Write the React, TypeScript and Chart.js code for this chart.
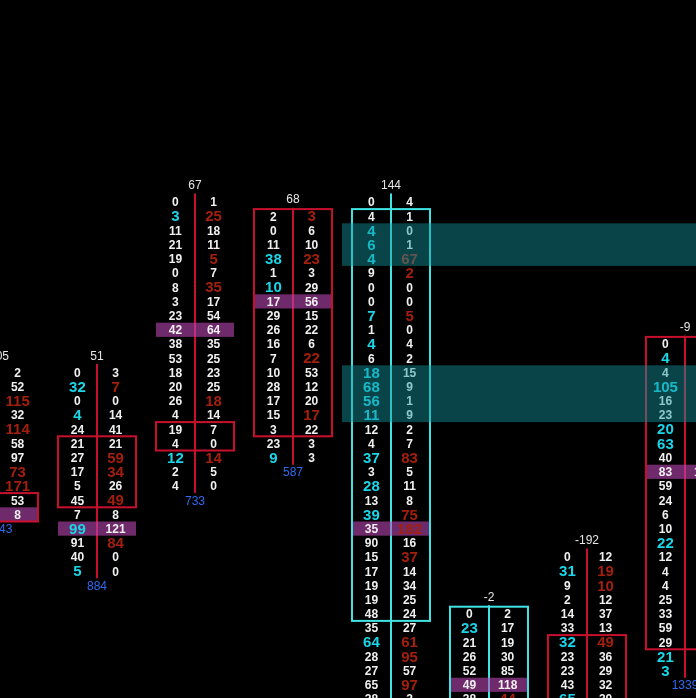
import { useEffect, useRef } from "react";
import { Chart, registerables } from "chart.js";

Chart.register(...registerables);

// ---- Column headers (bar delta) and footers (bar volume) ----
const deltaLabels = ["105", "51", "67", "68", "144", "-2", "-192", "-9"];
const volumeLabels = ["1043", "884", "733", "587", "", "", "", "1339"];
// first price level (row index, 0 = top visible level) of each bar
const firstLevel = [12, 12, 0, 1, 0, 29, 25, 10];
// point of control level per bar (null = not visible)
const pocLevel: (number | null)[] = [22, 23, 9, 7, 23, 34, null, 19];
// value-area style boxes
const boxFrom = [21, 17, 16, 1, 1, 29, 31, 10];
const boxTo = [22, 21, 17, 16, 29, 37, 37, 31];
const boxKind = ["red", "red", "red", "red", "cyan", "cyan", "red", "red"];
const lineKind = ["red", "red", "red", "red", "cyan", "cyan", "red", "red"];

// ---- bid / ask volumes per bar ----
const bid0: (number | null)[] = [null, null, null, null, null, null, null, null, null, null, null];
const ask0 = [2, 52, 115, 32, 114, 58, 97, 73, 171, 53, 8];
const bidHi0: number[] = [];
const askHi0 = [2, 4, 7, 8];

const bid1 = [0, 32, 0, 4, 24, 21, 27, 17, 5, 45, 7, 99, 91, 40, 5];
const ask1 = [3, 7, 0, 14, 41, 21, 59, 34, 26, 49, 8, 121, 84, 0, 0];
const bidHi1 = [1, 3, 11, 14];
const askHi1 = [1, 6, 7, 9, 12];

const bid2 = [0, 3, 11, 21, 19, 0, 8, 3, 23, 42, 38, 53, 18, 20, 26, 4, 19, 4, 12, 2, 4];
const ask2 = [1, 25, 18, 11, 5, 7, 35, 17, 54, 64, 35, 25, 23, 25, 18, 14, 7, 0, 14, 5, 0];
const bidHi2 = [1, 18];
const askHi2 = [1, 4, 6, 14, 18];

const bid3 = [2, 0, 11, 38, 1, 10, 17, 29, 26, 16, 7, 10, 28, 17, 15, 3, 23, 9];
const ask3 = [3, 6, 10, 23, 3, 29, 56, 15, 22, 6, 22, 53, 12, 20, 17, 22, 3, 3];
const bidHi3 = [3, 5, 17];
const askHi3 = [0, 3, 10, 14];

const bid4 = [0, 4, 4, 6, 4, 9, 0, 0, 7, 1, 4, 6, 18, 68, 56, 11, 12, 4, 37, 3, 28, 13, 39, 35, 90, 15, 17, 19, 19, 48, 35, 64, 28, 27, 65, 28];
const ask4 = [4, 1, 0, 1, 67, 2, 0, 0, 5, 0, 4, 2, 15, 9, 1, 9, 2, 7, 83, 5, 11, 8, 75, 182, 16, 37, 14, 34, 25, 24, 27, 61, 95, 57, 97, 2];
const bidHi4 = [2, 3, 4, 8, 10, 12, 13, 14, 15, 18, 20, 22, 31];
const askHi4 = [4, 5, 8, 18, 22, 23, 25, 31, 32, 34];

const bid5 = [0, 23, 21, 26, 52, 49, 38];
const ask5 = [2, 17, 19, 30, 85, 118, 44];
const bidHi5 = [1];
const askHi5 = [6];

const bid6 = [0, 31, 9, 2, 14, 33, 32, 23, 23, 43, 65];
const ask6 = [12, 19, 10, 12, 37, 13, 49, 36, 29, 32, 30];
const bidHi6 = [1, 6, 10];
const askHi6 = [1, 2, 6];

const bid7 = [0, 4, 4, 105, 16, 23, 20, 63, 40, 83, 59, 24, 6, 10, 22, 12, 4, 4, 25, 33, 59, 29, 21, 3];
const ask7: (number | null)[] = [null, null, null, null, null, null, null, null, null, 110, null, null, null, null, null, null, null, null, null, null, null, null, null, null];
const bidHi7 = [1, 3, 6, 7, 14, 22, 23];
const askHi7: number[] = [];

const bidCols = [bid0, bid1, bid2, bid3, bid4, bid5, bid6, bid7];
const askCols = [ask0, ask1, ask2, ask3, ask4, ask5, ask6, ask7];
const bidHiCols = [bidHi0, bidHi1, bidHi2, bidHi3, bidHi4, bidHi5, bidHi6, bidHi7];
const askHiCols = [askHi0, askHi1, askHi2, askHi3, askHi4, askHi5, askHi6, askHi7];

// highlighted price zones (level ranges), starting at a bar and extending right
const zoneFrom = [2, 12];
const zoneTo = [4, 15];
const zoneStartBar = [4, 4];

const COLORS = {
  bg: "#000000",
  text: "#f0f0f0",
  header: "#e6e6e6",
  footer: "#2f6bf0",
  bidHi: "#19d6e8",
  askHi: "#a41f0c",
  red: "#c8102e",
  cyan: "#3fe3e3",
  poc: "rgba(190,72,182,0.58)",
  zone: "rgba(20,150,160,0.45)",
};

const FONT = "'Liberation Sans', Arial, sans-serif";

const footprintPlugin = {
  id: "footprint",
  beforeDraw(chart: any) {
    const { ctx, width, height } = chart;
    ctx.save();
    ctx.fillStyle = COLORS.bg;
    ctx.fillRect(0, 0, width, height);
    ctx.restore();
  },
  afterDatasetsDraw(chart: any) {
    const ctx = chart.ctx as CanvasRenderingContext2D;
    const xs = chart.scales.x;
    const ys = chart.scales.y;
    const X = (v: number) => xs.getPixelForValue(v);
    const Y = (v: number) => ys.getPixelForValue(v);
    const half = 0.398;
    const off = 0.2;
    const ty = 1; // text vertical nudge
    ctx.save();
    ctx.textAlign = "center";
    ctx.textBaseline = "middle";
    for (let c = 0; c < bidCols.length; c++) {
      const bids = bidCols[c];
      const asks = askCols[c];
      const n = Math.max(bids.length, asks.length);
      const f = firstLevel[c];
      const last = f + n - 1;
      // center line
      ctx.strokeStyle = lineKind[c] === "cyan" ? COLORS.cyan : COLORS.red;
      ctx.lineWidth = 2;
      ctx.beginPath();
      ctx.moveTo(Math.round(X(c)), Y(f - 0.6));
      ctx.lineTo(Math.round(X(c)), Y(last + 0.5));
      ctx.stroke();
      // POC bar
      const p = pocLevel[c];
      if (p !== null) {
        ctx.fillStyle = COLORS.poc;
        const y0 = Y(p - 0.5);
        const y1 = Y(p + 0.5);
        ctx.fillRect(X(c - half), y0, X(c + half) - X(c - half), y1 - y0);
      }
      // box
      ctx.strokeStyle = boxKind[c] === "cyan" ? COLORS.cyan : COLORS.red;
      ctx.lineWidth = 2;
      {
        const x0 = X(c - half);
        const x1 = X(c + half);
        const y0 = Y(boxFrom[c] - 0.5);
        const y1 = Y(boxTo[c] + 0.5);
        ctx.strokeRect(x0, y0, x1 - x0, y1 - y0);
      }
      // header / footer
      ctx.font = "12px " + FONT;
      ctx.fillStyle = COLORS.header;
      ctx.fillText(deltaLabels[c], X(c), Y(f - 1.2) + ty);
      if (volumeLabels[c]) {
        ctx.fillStyle = COLORS.footer;
        ctx.fillText(volumeLabels[c], X(c), Y(last + 1) + ty);
      }
      // cells
      for (let i = 0; i < n; i++) {
        const lvl = f + i;
        const b = bids[i];
        const a = asks[i];
        if (b !== null && b !== undefined) {
          const hi = bidHiCols[c].includes(i);
          ctx.font = hi ? "bold 15px " + FONT : "bold 12px " + FONT;
          ctx.fillStyle = hi ? COLORS.bidHi : COLORS.text;
          ctx.fillText(String(b), X(c - off), Y(lvl) + ty);
        }
        if (a !== null && a !== undefined) {
          const hi = askHiCols[c].includes(i);
          ctx.font = hi ? "bold 15px " + FONT : "bold 12px " + FONT;
          ctx.fillStyle = hi ? COLORS.askHi : COLORS.text;
          ctx.fillText(String(a), X(c + off - 0.01), Y(lvl) + ty);
        }
      }
    }
    // highlighted zones drawn over the cells
    for (let z = 0; z < zoneFrom.length; z++) {
      const x0 = X(zoneStartBar[z] - 0.5);
      const x1 = chart.chartArea.right;
      const y0 = Y(zoneFrom[z] - 0.5);
      const y1 = Y(zoneTo[z] + 0.5);
      ctx.fillStyle = COLORS.zone;
      ctx.fillRect(x0, y0, x1 - x0, y1 - y0);
    }
    ctx.restore();
  },
};

export default function App() {
  const ref = useRef<HTMLCanvasElement | null>(null);
  useEffect(() => {
    document.body.style.margin = "0";
    document.body.style.background = "#000";
    const points: { x: number; y: number }[] = [];
    bidCols.forEach((col, c) => col.forEach((_, i) => points.push({ x: c, y: firstLevel[c] + i })));
    const chart = new Chart(ref.current as HTMLCanvasElement, {
      type: "scatter",
      data: { datasets: [{ data: points, pointRadius: 0, showLine: false }] },
      options: {
        animation: false,
        responsive: true,
        maintainAspectRatio: false,
        layout: { padding: 0 },
        plugins: { legend: { display: false }, tooltip: { enabled: false } },
        events: [],
        scales: {
          x: { type: "linear", display: false, min: 1 / 98, max: 1 / 98 + 696 / 98 },
          y: { type: "linear", display: false, reverse: true, min: -202 / 14.2, max: -202 / 14.2 + 698 / 14.2 },
        },
      },
      plugins: [footprintPlugin],
    });
    return () => chart.destroy();
  }, []);
  return (
    <div style={{ position: "fixed", left: 0, top: 0, width: 696, height: 698, background: "#000" }}>
      <canvas ref={ref} />
    </div>
  );
}
